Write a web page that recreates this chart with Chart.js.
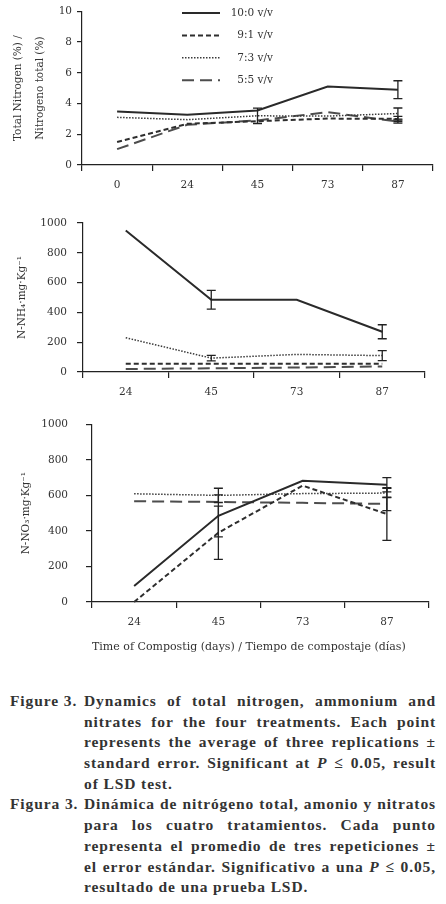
<!DOCTYPE html>
<html><head><meta charset="utf-8">
<script src="https://cdn.jsdelivr.net/npm/chart.js@4.4.1/dist/chart.umd.min.js"></script>
<style>
html,body{margin:0;padding:0;background:#fff;width:446px;height:904px;overflow:hidden}
.p{position:absolute;left:0;width:446px}
#cap{position:absolute;left:10px;top:691px;width:426px;font-family:"Liberation Serif",serif;font-weight:bold;font-size:15.5px;line-height:20.7px;color:#333}
.ln{white-space:nowrap;height:20.7px}
.lab{display:inline-block;width:74px}
.in{margin-left:74px}
</style></head><body>
<div class="p" style="top:0;height:200px"><canvas id="c1" width="446" height="200"></canvas></div>
<div class="p" style="top:200px;height:200px"><canvas id="c2" width="446" height="200"></canvas></div>
<div class="p" style="top:400px;height:262px"><canvas id="c3" width="446" height="262"></canvas></div>
<div id="cap">
<div class="ln"><span class="lab">Figure 3.</span><span class="t j">Dynamics of total nitrogen, ammonium and</span></div>
<div class="ln in"><span class="t j">nitrates for the four treatments. Each point</span></div>
<div class="ln in"><span class="t j">represents the average of three replications ±</span></div>
<div class="ln in"><span class="t j">standard error. Significant at <i>P</i> ≤ 0.05, result</span></div>
<div class="ln in"><span class="t">of LSD test.</span></div>
<div class="ln"><span class="lab">Figura 3.</span><span class="t j">Dinámica de nitrógeno total, amonio y nitratos</span></div>
<div class="ln in"><span class="t j">para los cuatro tratamientos. Cada punto</span></div>
<div class="ln in"><span class="t j">representa el promedio de tres repeticiones ±</span></div>
<div class="ln in"><span class="t j">el error estándar. Significativo a una <i>P</i> ≤ 0.05,</span></div>
<div class="ln in"><span class="t">resultado de una prueba LSD.</span></div>
</div>
<script>
// ---- data ----
const treatments = ['10:0 v/v', '9:1 v/v', '7:3 v/v', '5:5 v/v'];
const daysTN = ['0', '24', '45', '73', '87'];
const daysNH = ['24', '45', '73', '87'];
const daysNO = ['24', '45', '73', '87'];

// Total nitrogen (%)
const tn_10_0 = [3.48, 3.27, 3.55, 5.1, 4.9];
const tn_9_1  = [1.5, 2.68, 2.85, 3.02, 3.0];
const tn_7_3  = [3.1, 2.95, 3.2, 3.18, 3.35];
const tn_5_5  = [1.03, 2.62, 2.9, 3.44, 2.82];
const tn_10_0_err = [null, null, null, null, 0.58];
const tn_9_1_err  = [null, null, null, null, 0.17];
const tn_7_3_err  = [null, null, 0.5, null, 0.36];
const tn_5_5_err  = [null, null, null, null, 0.1];

// N-NH4 (mg/kg)
const nh_10_0 = [950, 485, 485, 270];
const nh_9_1  = [55, 55, 55, 55];
const nh_7_3  = [230, 93, 118, 110];
const nh_5_5  = [20, 25, 30, 37];
const nh_10_0_err = [null, 63, null, 47];
const nh_9_1_err  = [null, null, null, null];
const nh_7_3_err  = [null, 18, null, 33];
const nh_5_5_err  = [null, null, null, null];

// N-NO3 (mg/kg)
const no_10_0 = [90, 485, 682, 660];
const no_9_1  = [0, 390, 655, 495];
const no_7_3  = [609, 600, 610, 613];
const no_5_5  = [567, 563, 558, 552];
const no_10_0_err = [null, 118, null, 40];
const no_9_1_err  = [null, 150, null, 148];
const no_7_3_err  = [null, 40, null, 26];
const no_5_5_err  = [null, null, null, 38];

const yTitleTN = ['Total Nitrogen (%) /', 'Nitrogeno total (%)'];
const yTitleNH = 'N-NH\u2084\u00B7mg\u00B7Kg\u207B\u00B9';
const yTitleNO = 'N-NO\u2083\u00B7mg\u00B7Kg\u207B\u00B9';
const xTitle = 'Time of Compostig (days) / Tiempo de compostaje (días)';

// ---- styles ----
const lineStyles = [
  {borderColor: '#2a2a2a', borderWidth: 2, borderDash: []},
  {borderColor: '#2e2e2e', borderWidth: 2, borderDash: [5, 3]},
  {borderColor: '#3a3a3a', borderWidth: 1.5, borderDash: [1.5, 1.5]},
  {borderColor: '#4d4d4d', borderWidth: 2, borderDash: [12, 6]}
];
const AX = '#222';
const TXT = '#333';
const FONT = 'DejaVu Serif';

const errorBars = {
  id: 'errorBars',
  afterDatasetsDraw(chart) {
    const ctx = chart.ctx, ys = chart.scales.y;
    chart.data.datasets.forEach((ds, i) => {
      if (!ds.err) return;
      const meta = chart.getDatasetMeta(i);
      ds.err.forEach((e, j) => {
        if (e == null) return;
        const x = meta.data[j].x, v = ds.data[j];
        const yt = ys.getPixelForValue(v + e), yb = ys.getPixelForValue(v - e);
        ctx.save();
        ctx.strokeStyle = AX; ctx.lineWidth = 1.3; ctx.setLineDash([]);
        ctx.beginPath();
        ctx.moveTo(x, yt); ctx.lineTo(x, yb);
        ctx.moveTo(x - 4.5, yt); ctx.lineTo(x + 4.5, yt);
        ctx.moveTo(x - 4.5, yb); ctx.lineTo(x + 4.5, yb);
        ctx.stroke();
        ctx.restore();
      });
    });
  }
};

const lineLegend = {
  id: 'lineLegend',
  afterDraw(chart, args, o) {
    if (!o || !o.show) return;
    const ctx = chart.ctx;
    chart.data.datasets.forEach((ds, i) => {
      const y = o.y0 + i * o.dy;
      ctx.save();
      ctx.strokeStyle = ds.borderColor; ctx.lineWidth = ds.borderWidth;
      ctx.setLineDash(ds.borderDash || []);
      ctx.beginPath(); ctx.moveTo(o.x1, y); ctx.lineTo(o.x2, y); ctx.stroke();
      ctx.setLineDash([]);
      ctx.fillStyle = TXT; ctx.font = o.font;
      ctx.textAlign = 'right'; ctx.textBaseline = 'middle';
      ctx.fillText(ds.label, o.tx, y);
      ctx.restore();
    });
  }
};

function makeChart(id, labels, series, errs, c) {
  const datasets = series.map((d, i) => Object.assign({
    label: treatments[i], data: d, err: errs[i],
    pointRadius: 0, tension: 0, fill: false, clip: 6
  }, lineStyles[i]));
  return new Chart(document.getElementById(id), {
    type: 'line',
    data: {labels: labels, datasets: datasets},
    plugins: [errorBars, lineLegend],
    options: {
      responsive: false, animation: false,
      layout: {padding: {top: c.top, right: c.right, left: 0, bottom: 0}},
      plugins: {legend: {display: false}, tooltip: {enabled: false},
        lineLegend: c.legend || {show: false}},
      scales: {
        x: {
          offset: true,
          grid: {offset: true, drawOnChartArea: false, drawTicks: true, tickLength: 6, color: AX, lineWidth: 1.2},
          border: {display: true, color: AX, width: 1.2},
          ticks: {color: TXT, font: {family: FONT, size: 10.5}, padding: c.xpad, maxRotation: 0},
          title: c.xTitle ? {display: true, text: c.xTitle, align: 'start', color: TXT, font: {family: FONT, size: 11}, padding: {top: 0, bottom: c.xTitlePad}} : {display: false},
          afterFit: s => { s.height = c.xh; }
        },
        y: {
          min: 0, max: c.max,
          ticks: {stepSize: c.step, color: TXT, font: {family: FONT, size: 10.5}, padding: c.ypad,
                  callback: v => String(v)},
          grid: {drawOnChartArea: false, drawTicks: true, tickLength: c.tl, color: AX, lineWidth: 1.2},
          border: {display: true, color: AX, width: 1.2},
          title: {display: true, text: c.yTitle, color: TXT, font: {family: FONT, size: 10.5, lineHeight: c.ylh}, padding: {top: c.yTitlePad, bottom: 0}},
          afterFit: s => { s.width = c.yw; }
        }
      }
    }
  });
}

makeChart('c1', daysTN, [tn_10_0, tn_9_1, tn_7_3, tn_5_5],
  [tn_10_0_err, tn_9_1_err, tn_7_3_err, tn_5_5_err],
  {top: 10, right: 13, yw: 82, xh: 35, max: 10, step: 2, tl: 5, ypad: 5, xpad: 8,
   yTitle: yTitleTN, ylh: 2.1, yTitlePad: 7,
   legend: {show: true, x1: 182, x2: 220, tx: 273, y0: 13, dy: 22.4, font: '10.5px "DejaVu Serif"'}});

makeChart('c2', daysNH, [nh_10_0, nh_9_1, nh_7_3, nh_5_5],
  [nh_10_0_err, nh_9_1_err, nh_7_3_err, nh_5_5_err],
  {top: 23, right: 21, yw: 83, xh: 28, max: 1000, step: 200, tl: 6, ypad: 10, xpad: 8,
   yTitle: yTitleNH, ylh: 1.2, yTitlePad: 16});

makeChart('c3', daysNO, [no_10_0, no_9_1, no_7_3, no_5_5],
  [no_10_0_err, no_9_1_err, no_7_3_err, no_5_5_err],
  {top: 21, right: 17, yw: 92, xh: 60, max: 1000, step: 200, tl: 6, ypad: 18, xpad: 8,
   yTitle: yTitleNO, ylh: 1.2, yTitlePad: 20, xTitle: xTitle, xTitlePad: 8});

// caption: widen letters to fit the tightest line, then justify word spacing
(function () {
  const W = 352;
  const js = Array.from(document.querySelectorAll('#cap .t.j'));
  let ls = Infinity;
  js.forEach(s => {
    const w = s.getBoundingClientRect().width;
    const n = s.textContent.length;
    ls = Math.min(ls, (W - 2 - w) / n);
  });
  ls = Math.max(0, Math.min(ls, 1.2));
  document.querySelectorAll('#cap .t, #cap .lab').forEach(s => { s.style.letterSpacing = ls + 'px'; });
  js.forEach(s => {
    const w = s.getBoundingClientRect().width;
    const spaces = (s.textContent.match(/ /g) || []).length;
    if (spaces) s.style.wordSpacing = ((W - w) / spaces) + 'px';
  });
})();
</script>
</body></html>
